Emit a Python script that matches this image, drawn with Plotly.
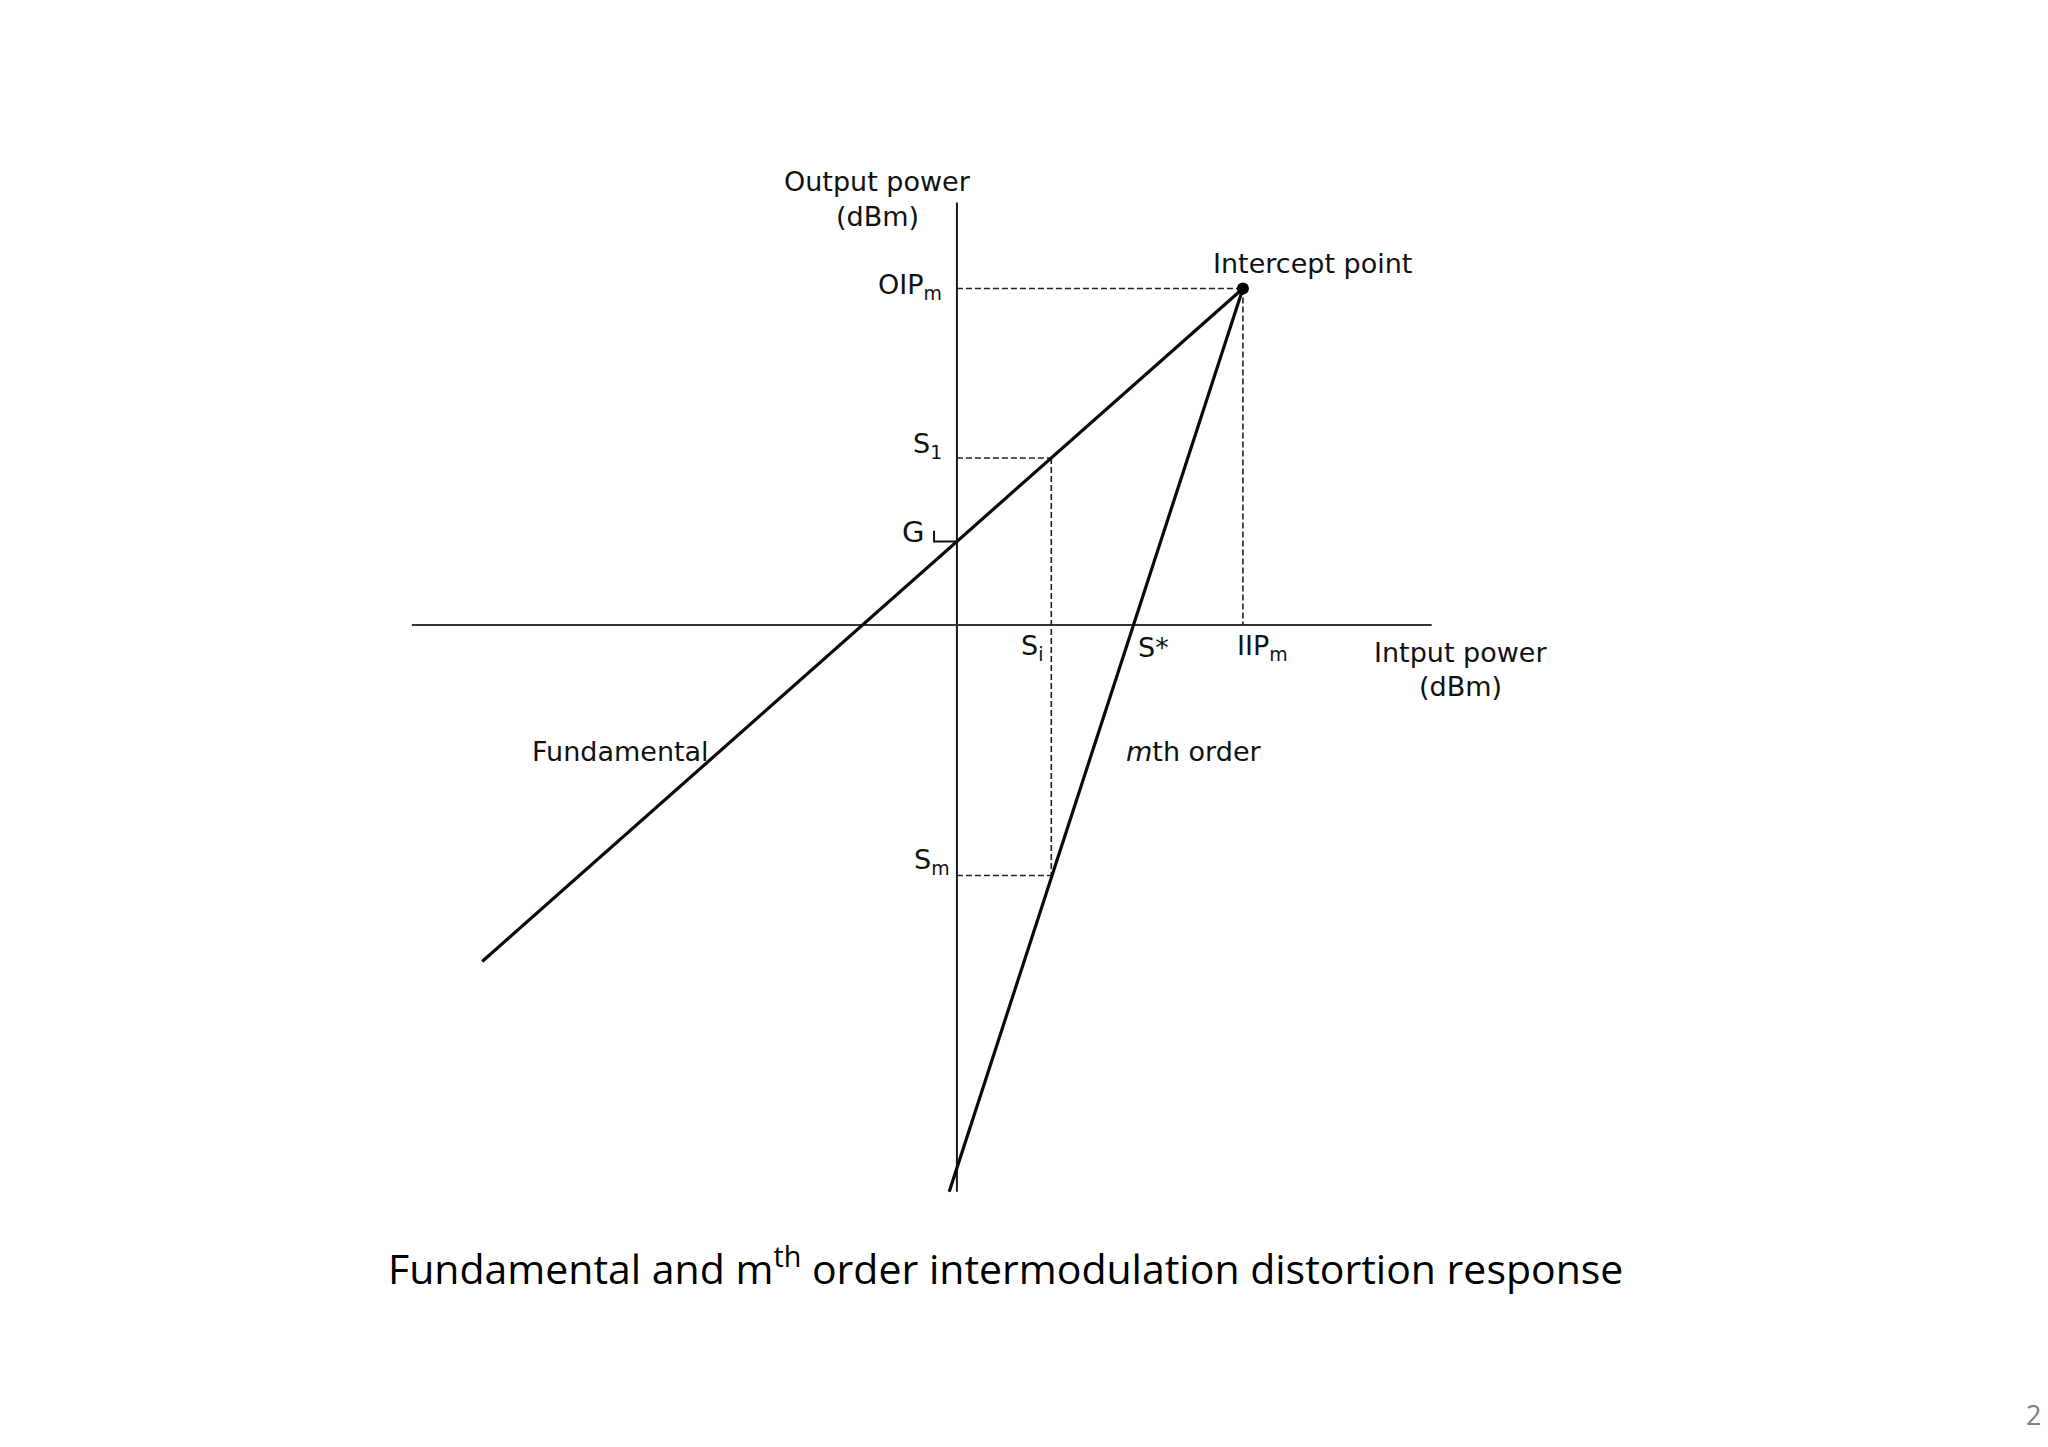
import plotly.graph_objects as go

# ---- values (arbitrary dB units) ----
IIP_M = 10.0      # input intercept point
OIP_M = 13.3      # output intercept point
G1 = 3.3          # small-signal gain (fundamental at 0 dBm input)
S_I = 3.3         # input signal level
S_1 = 6.6         # fundamental output at S_I
S_M = -9.9        # m-th order output at S_I
S_STAR = 6.17     # m-th order crosses 0 dBm output
fund_x = [-16.6, 10.0]
fund_y = [-13.3, 13.3]
mth_x = [-0.27, 10.0]
mth_y = [-22.4, 13.3]
yaxis_span = [-22.4, 16.7]
xaxis_span = [-19.06, 16.6]
X_RANGE = [-33.46, 38.15]
Y_RANGE = [-32.49, 24.70]
G_TICK_X = [-0.8, -0.8, 0.0]
G_TICK_DY = [0.42, 0.0, 0.0]

LBL_FONT = dict(family="DejaVu Sans", size=27, color="#111111")
DASH = dict(color="#222222", width=1.6, dash="6px,3px")

fig = go.Figure()

def line(x, y, **kw):
    fig.add_trace(go.Scatter(x=x, y=y, mode="lines", hoverinfo="skip", line=kw))

# axes
line([0, 0], yaxis_span, color="#1a1a1a", width=2)
line(xaxis_span, [0, 0], color="#333333", width=2)

# dashed guides
line([0, IIP_M], [OIP_M, OIP_M], **DASH)
line([IIP_M, IIP_M], [OIP_M, 0], **DASH)
line([0, S_I], [S_1, S_1], **DASH)
line([S_I, S_I], [S_1, S_M], **DASH)
line([0, S_I], [S_M, S_M], **DASH)

# G1 bracket
line(G_TICK_X, [G1 + d for d in G_TICK_DY], color="#111111", width=2)

# response lines
line(fund_x, fund_y, color="#0a0a0a", width=3.2)
line(mth_x, mth_y, color="#0a0a0a", width=3.2)

# intercept point
fig.add_trace(go.Scatter(x=[IIP_M], y=[OIP_M], mode="markers", hoverinfo="skip",
                         marker=dict(size=12, color="#000000")))

ann = []
def label(text, x, y, xanchor="center", yanchor="middle", xshift=0, yshift=0, font=LBL_FONT, **kw):
    ann.append(dict(text=text, x=x, y=y, xref="x", yref="y", showarrow=False,
                    xanchor=xanchor, yanchor=yanchor, xshift=xshift, yshift=yshift,
                    font=font, **kw))

label("Output power", 0, yaxis_span[1], xshift=-79, yshift=21)
label("(dBm)", 0, yaxis_span[1], xshift=-79, yshift=-14)
label("OIP<sub>m</sub>", 0, OIP_M, xanchor="right", xshift=-13, yshift=2)
label("Intercept point", IIP_M, OIP_M, xshift=70, yshift=25)
label("S<sub>1</sub>", 0, S_1, xanchor="right", xshift=-13, yshift=12)
label("G", 0, G1, xanchor="right", xshift=-31, yshift=9,
      font=dict(family="DejaVu Sans", size=29, color="#111111"))
label("S<sub>i</sub>", S_I, 0, xshift=-19, yshift=-23)
label("S*", S_STAR, 0, xshift=20, yshift=-23)
label("IIP<sub>m</sub>", IIP_M, 0, xanchor="left", xshift=-8, yshift=-23)
label("Intput power", xaxis_span[1], 0, xshift=29, yshift=-28)
label("(dBm)", xaxis_span[1], 0, xshift=29, yshift=-62)
label("Fundamental", fund_x[0], 0, xanchor="left", xshift=48, yshift=-127)
label("<i>m</i>th order", S_STAR, 0, xanchor="left", xshift=-9, yshift=-127)
label("S<sub>m</sub>", 0, S_M, xanchor="right", xshift=-5, yshift=14)

ann.append(dict(text="Fundamental and m<sup>th</sup> order intermodulation distortion response",
                x=1005 / 2048, y=1 - 1266 / 1447, xref="paper", yref="paper",
                showarrow=False, xanchor="center", yanchor="middle",
                font=dict(family="Open Sans", size=41, color="#000000")))
ann.append(dict(text="2", x=2033 / 2048, y=1 - 1414 / 1447, xref="paper", yref="paper",
                showarrow=False, xanchor="center", yanchor="middle",
                font=dict(family="Open Sans", size=27, color="#7f7f7f")))

fig.update_layout(
    width=2048, height=1447,
    margin=dict(l=0, r=0, t=0, b=0),
    paper_bgcolor="white", plot_bgcolor="white",
    showlegend=False,
    xaxis=dict(range=X_RANGE, visible=False, fixedrange=True),
    yaxis=dict(range=Y_RANGE, visible=False, fixedrange=True),
    annotations=ann,
)

fig.write_html("out.html", config=dict(displayModeBar=False),
               post_script="document.body.style.margin='0px';")
